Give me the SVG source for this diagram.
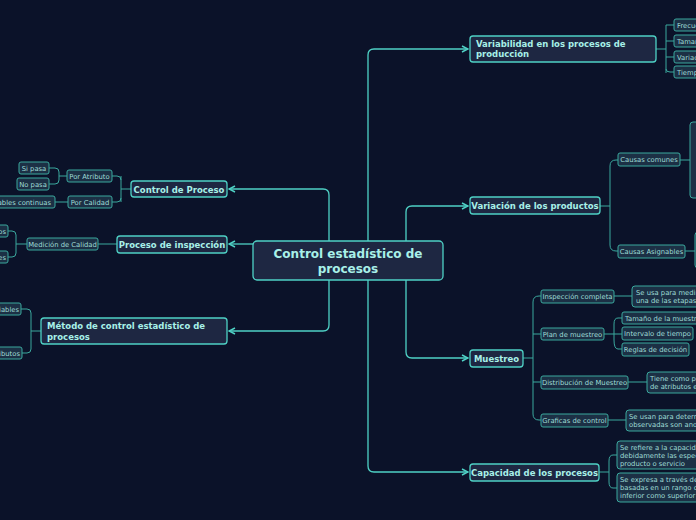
<svg xmlns="http://www.w3.org/2000/svg" width="696" height="520" viewBox="0 0 696 520">
<defs>
<style>
.bg{fill:#0b1229}
.m{fill:#1e2742;stroke:#4fd1c5;stroke-width:1.3}
.s{fill:#1c3045;stroke:#3ba89e;stroke-width:1}
.tm{font-family:"DejaVu Sans",sans-serif;font-weight:bold;font-size:8.5px;fill:#a8f0e8}
.tc{font-family:"DejaVu Sans",sans-serif;font-weight:bold;font-size:12px;fill:#a8f0e8}
.ts{font-family:"DejaVu Sans",sans-serif;font-size:6.8px;fill:#9fdcd6}
.c path{fill:none;stroke:#4fd1c5;stroke-width:1.3}
.c .t{stroke:#3ba89e;stroke-width:1}
</style>
<marker id="a" markerWidth="8" markerHeight="8" refX="7" refY="4" orient="auto" markerUnits="userSpaceOnUse"><path d="M1,1 L7,4 L1,7" fill="none" stroke="#4fd1c5" stroke-width="1.5"/></marker>
</defs>
<rect class="bg" width="696" height="520"/>
<g class="c">
<path d="M329,241 V195 Q329,189 323,189 H229" marker-end="url(#a)"/>
<path d="M253,244 H229" marker-end="url(#a)"/>
<path d="M329,280 V325 Q329,331 323,331 H229" marker-end="url(#a)"/>
<path d="M406,241 V212 Q406,206 412,206 H468" marker-end="url(#a)"/>
<path d="M406,280 V352 Q406,358 412,358 H468" marker-end="url(#a)"/>
<path d="M368,241 V55 Q368,49 374,49 H468" marker-end="url(#a)"/>
<path d="M368,280 V466 Q368,472 374,472 H468" marker-end="url(#a)"/>
<path class="t" d="M131,189 H121 M121,176 V202 M112,176 H117 Q121,176 121,180 M112,202 H117 Q121,202 121,198"/>
<path class="t" d="M67,176 H59 M49,168 H55 Q59,168 59,172 V180 Q59,184 55,184 H49"/>
<path class="t" d="M68,202 H55"/>
<path class="t" d="M117,244 H98 M27,244 H16 M8,231 H12 Q16,231 16,235 V253 Q16,257 12,257 H8"/>
<path class="t" d="M41,331 H31 M21,309 H27 Q31,309 31,313 V349 Q31,353 27,353 H22"/>
<path class="t" d="M656,49 H666 M666,25 V73 M666,25 Q666,25 670,25 H674 M666,41 H674 M666,57 H674 M666,69 Q666,72 670,72 H674"/>
<path class="t" d="M600,206 H610 M610,166 Q610,160 616,160 H618 M610,166 V245 Q610,251 616,251 H618"/>
<path class="t" d="M680,160 H690 M685,251 H696"/>
<path class="t" d="M523,358 H533 M533,302 Q533,296 539,296 H541 M533,302 V414 Q533,420 539,420 H541 M533,334 H541 M533,382 H541"/>
<path class="t" d="M614,296 H632 M604,334 H614 M614,324 V340 M614,324 Q614,318 618,318 H622 M614,340 Q614,349 618,349 H622 M614,334 H622 M628,382 H647 M608,420 H626"/>
<path class="t" d="M599,472 H609 M609,461 Q609,455 613,455 H617 M609,461 V482 Q609,488 613,488 H617"/>
</g>
<g id="center"><rect class="m" x="253" y="241" width="190" height="39" rx="4"/><text class="tc" x="348" y="258" text-anchor="middle">Control estadístico de</text><text class="tc" x="348" y="273" text-anchor="middle">procesos</text></g>
<g id="n1"><rect class="m" x="131" y="181" width="96" height="16" rx="3"/><text class="tm" x="179" y="192.5" text-anchor="middle">Control de Proceso</text></g>
<g id="n2"><rect class="m" x="117" y="236" width="110" height="17" rx="3"/><text class="tm" x="172" y="248" text-anchor="middle">Proceso de inspección</text></g>
<g id="n3"><rect class="m" x="41" y="318" width="186" height="26" rx="3"/><text class="tm" x="47" y="329">Método de control estadístico de</text><text class="tm" x="47" y="340">procesos</text></g>
<g id="n4"><rect class="m" x="470" y="36" width="186" height="26" rx="3"/><text class="tm" x="476" y="47">Variabilidad en los procesos de</text><text class="tm" x="476" y="57">producción</text></g>
<g id="n5"><rect class="m" x="470" y="197" width="130" height="17" rx="3"/><text class="tm" x="535" y="209" text-anchor="middle">Variación de los productos</text></g>
<g id="n6"><rect class="m" x="470" y="350" width="53" height="17" rx="3"/><text class="tm" x="496.5" y="362" text-anchor="middle">Muestreo</text></g>
<g id="n7"><rect class="m" x="470" y="464" width="129" height="17" rx="3"/><text class="tm" x="534.5" y="476" text-anchor="middle">Capacidad de los procesos</text></g>
<g id="s1"><rect class="s" x="67" y="170" width="45" height="12" rx="2"/><text class="ts" x="89.5" y="178.5" text-anchor="middle">Por Atributo</text></g>
<g id="s2"><rect class="s" x="68" y="196" width="44" height="12" rx="2"/><text class="ts" x="90" y="204.5" text-anchor="middle">Por Calidad</text></g>
<g id="s3"><rect class="s" x="19" y="162" width="30" height="12" rx="2"/><text class="ts" x="34" y="170.5" text-anchor="middle">Si pasa</text></g>
<g id="s4"><rect class="s" x="17" y="178" width="32" height="12" rx="2"/><text class="ts" x="33" y="186.5" text-anchor="middle">No pasa</text></g>
<g id="s5"><rect class="s" x="-30" y="196" width="85" height="12" rx="2"/><text class="ts" x="51" y="204.5" text-anchor="end">Variables continuas</text></g>
<g id="s6"><rect class="s" x="27" y="238" width="71" height="12" rx="2"/><text class="ts" x="62.5" y="246.5" text-anchor="middle">Medición de Calidad</text></g>
<g id="s7"><rect class="s" x="-30" y="225" width="38" height="12" rx="2"/><text class="ts" x="6" y="233.5" text-anchor="end">Atributos</text></g>
<g id="s8"><rect class="s" x="-30" y="251" width="38" height="12" rx="2"/><text class="ts" x="6" y="259.5" text-anchor="end">Variables</text></g>
<g id="s9"><rect class="s" x="-30" y="303" width="51" height="12" rx="2"/><text class="ts" x="19" y="311.5" text-anchor="end">Por variables</text></g>
<g id="s10"><rect class="s" x="-30" y="347" width="52" height="12" rx="2"/><text class="ts" x="20" y="355.5" text-anchor="end">Por atributos</text></g>
<g id="s11"><rect class="s" x="674" y="19" width="40" height="12" rx="2"/><text class="ts" x="677" y="27.5">Frecuencia</text></g>
<g id="s12"><rect class="s" x="674" y="35" width="40" height="12" rx="2"/><text class="ts" x="677" y="43.5">Tamaño</text></g>
<g id="s13"><rect class="s" x="674" y="51" width="40" height="12" rx="2"/><text class="ts" x="677" y="59.5">Variación</text></g>
<g id="s14"><rect class="s" x="674" y="66" width="40" height="12" rx="2"/><text class="ts" x="677" y="74.5">Tiempo</text></g>
<g id="s15"><rect class="s" x="618" y="153" width="62" height="13" rx="2"/><text class="ts" x="649" y="162" text-anchor="middle">Causas comunes</text></g>
<g id="s16"><rect class="s" x="690" y="122" width="30" height="76" rx="3"/></g>
<g id="s17"><rect class="s" x="618" y="245" width="67" height="13" rx="2"/><text class="ts" x="651.5" y="254" text-anchor="middle">Causas Asignables</text></g>
<g id="s18"><rect class="s" x="695" y="232" width="30" height="36" rx="3"/></g>
<g id="s19"><rect class="s" x="541" y="290" width="73" height="13" rx="2"/><text class="ts" x="577.5" y="299" text-anchor="middle">Inspección completa</text></g>
<g id="s20"><rect class="s" x="632" y="286" width="80" height="21" rx="3"/><text class="ts" x="636" y="294.5">Se usa para medir</text><text class="ts" x="636" y="302.5">una de las etapas</text></g>
<g id="s21"><rect class="s" x="541" y="328" width="63" height="12" rx="2"/><text class="ts" x="572.5" y="336.5" text-anchor="middle">Plan de muestreo</text></g>
<g id="s22"><rect class="s" x="622" y="312" width="80" height="12" rx="2"/><text class="ts" x="625" y="320.5">Tamaño de la muestra</text></g>
<g id="s23"><rect class="s" x="622" y="327" width="71" height="13" rx="2"/><text class="ts" x="657.5" y="336" text-anchor="middle">Intervalo de tiempo</text></g>
<g id="s24"><rect class="s" x="622" y="343" width="67" height="13" rx="2"/><text class="ts" x="655.5" y="352" text-anchor="middle">Reglas de decisión</text></g>
<g id="s25"><rect class="s" x="541" y="376" width="87" height="13" rx="2"/><text class="ts" x="584.5" y="385" text-anchor="middle">Distribución de Muestreo</text></g>
<g id="s26"><rect class="s" x="647" y="372" width="80" height="21" rx="3"/><text class="ts" x="650" y="380.5">Tiene como propósito</text><text class="ts" x="650" y="388.5">de atributos en</text></g>
<g id="s27"><rect class="s" x="541" y="414" width="67" height="13" rx="2"/><text class="ts" x="574.5" y="423" text-anchor="middle">Graficas de control</text></g>
<g id="s28"><rect class="s" x="626" y="410" width="90" height="21" rx="3"/><text class="ts" x="629" y="418.5">Se usan para determinar</text><text class="ts" x="629" y="426.5">observadas son anormales</text></g>
<g id="s29"><rect class="s" x="617" y="441" width="100" height="28" rx="3"/><text class="ts" x="620" y="450">Se refiere a la capacidad</text><text class="ts" x="620" y="458">debidamente las especificaciones</text><text class="ts" x="620" y="466">producto o servicio</text></g>
<g id="s30"><rect class="s" x="617" y="473" width="100" height="29" rx="3"/><text class="ts" x="620" y="482">Se expresa a través de</text><text class="ts" x="620" y="490">basadas en un rango de</text><text class="ts" x="620" y="498">inferior como superior</text></g>
</svg>
